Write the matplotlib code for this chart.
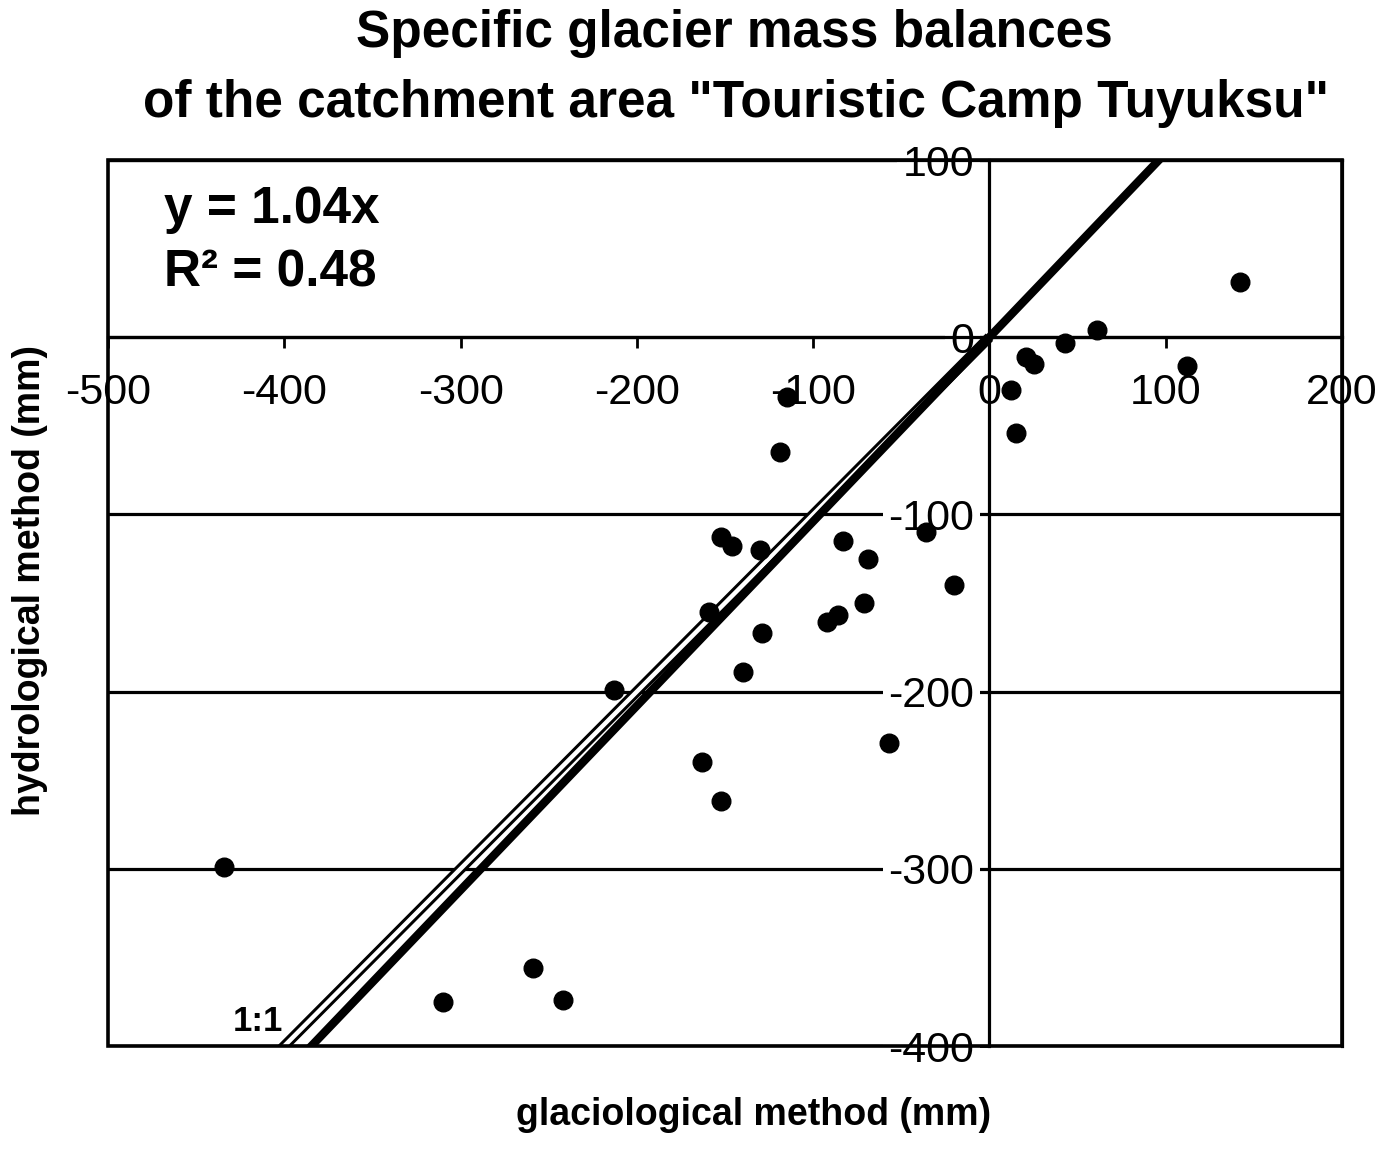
import numpy as np
import matplotlib
matplotlib.use('Agg')
from matplotlib import pyplot as plt
from matplotlib.patches import Rectangle

plt.rcParams['font.family'] = ['Liberation Sans', 'DejaVu Sans']
plt.rcParams['axes.unicode_minus'] = False

# glaciological (x) vs hydrological (y) balances, mm
glac = [142, 61, 43, 21, 25, 112, 12, 15, -115, -119,
        -152, -146, -130, -83, -69, -36, -20, -159, -92, -86,
        -71, -129, -140, -213, -163, -152, -57, -259, -310, -242,
        -434]
hydro = [31, 4, -3, -11, -15, -16, -30, -54, -34, -65,
         -113, -118, -120, -115, -125, -110, -140, -155, -161, -157,
         -150, -167, -189, -199, -240, -262, -229, -356, -375, -374,
         -299]

slope = 1.04
r2 = 0.48
xticks = [-500, -400, -300, -200, -100, 0, 100, 200]
yticks = [-400, -300, -200, -100, 0, 100]

fig = plt.figure(figsize=(14, 11.51), dpi=100)
ax = fig.add_axes([108 / 1400, 1 - 1046 / 1151, 1234 / 1400, 886 / 1151])
ax.set_xlim(-500, 200)
ax.set_ylim(-400, 100)

# axes crossing at zero, plus a full box around the plot
ax.spines['left'].set_position(('data', 0))
ax.spines['bottom'].set_position(('data', 0))
for s in ax.spines.values():
    s.set_linewidth(2.3)
ax.add_patch(Rectangle((0, 0), 1, 1, transform=ax.transAxes, fill=False,
                       lw=2.6, ec='black', clip_on=False, zorder=5))

ax.set_xticks(xticks)
ax.set_yticks(yticks)
ax.tick_params(axis='x', direction='out', length=8, width=2, pad=18, labelsize=31)
ax.tick_params(axis='y', direction='out', length=8, width=2, pad=3, labelsize=31)
for lab in ax.get_yticklabels():
    lab.set_bbox(dict(facecolor='white', edgecolor='none', pad=4))
ax.yaxis.grid(True, color='black', lw=2.3)

# 1:1 line, drawn hollow, only on the lower side
x11 = np.array([-500, 0])
ax.plot(x11, x11, color='black', lw=7.5, solid_capstyle='butt', zorder=2)
ax.plot(x11, x11, color='white', lw=3.2, solid_capstyle='butt', zorder=2.1)
# regression line
xs = np.array([-500, 200])
ax.plot(xs, slope * xs, color='black', lw=6, zorder=2.2)

ax.scatter(glac, hydro, s=180, color='black', zorder=3)

ax.text(-468, 72, 'y = 1.04x', fontsize=37, fontweight='bold', va='center')
ax.text(-468, 36, 'R² = %.2f' % r2, fontsize=37, fontweight='bold', va='center')
ax.text(-415, -386, '1:1', fontsize=25, fontweight='bold', va='center', ha='center')

fig.text(754 / 1400, 1 - 1115 / 1151, 'glaciological method (mm)', fontsize=27,
         fontweight='bold', ha='center', va='center')
fig.text(30 / 1400, 1 - 580 / 1151, 'hydrological method (mm)', fontsize=27,
         fontweight='bold', ha='center', va='center', rotation=90)

fig.text(734 / 1400, 1 - 33 / 1151, 'Specific glacier mass balances', fontsize=37,
         fontweight='bold', ha='center', va='center')
fig.text(736 / 1400, 1 - 103 / 1151, 'of the catchment area "Touristic Camp Tuyuksu"',
         fontsize=37, fontweight='bold', ha='center', va='center')

fig.savefig('out.png', dpi=100, facecolor='white')
